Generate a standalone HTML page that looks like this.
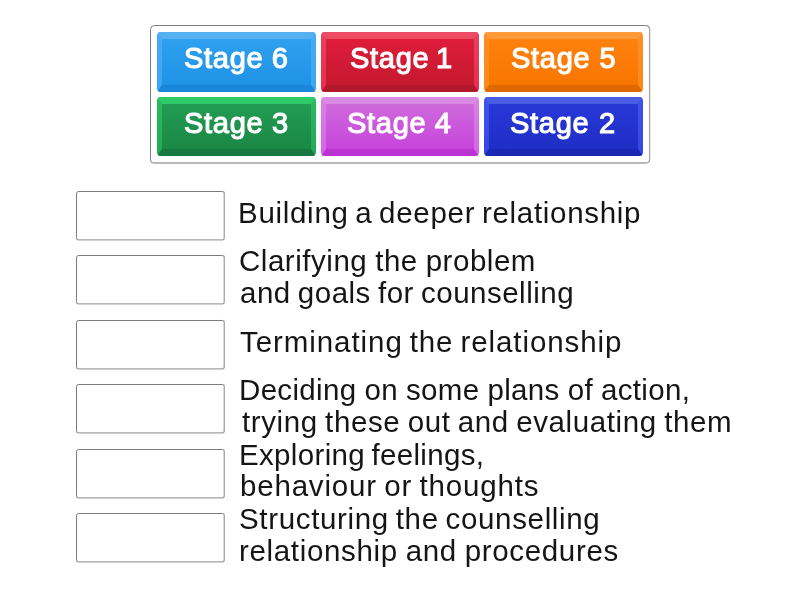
<!DOCTYPE html>
<html><head><meta charset="utf-8"><title>Match up</title>
<style>
html,body{margin:0;padding:0;background:#fff}
body{width:800px;height:600px;position:relative;overflow:hidden;font-family:"Liberation Sans",sans-serif}
#frame{position:absolute;left:0;top:0;display:block}
.tile{position:absolute;border-radius:4px;overflow:hidden;background:linear-gradient(var(--s1),var(--s2))}
.tile::before,.tile::after{content:"";position:absolute;left:0;right:0;border-left:5px solid transparent;border-right:5px solid transparent}
.tile::before{top:0;border-top:7px solid var(--bt)}
.tile::after{bottom:0;border-bottom:7px solid var(--bb)}
.tile i{position:absolute;left:5px;right:5px;top:7px;bottom:7px;background:linear-gradient(var(--m1),var(--m2))}
.tile span{position:absolute;will-change:transform;white-space:nowrap;color:#fff;font-weight:normal;-webkit-text-stroke:1.1px #fff;font-size:29.0px;line-height:34px;height:34px}
.ln{position:absolute;will-change:transform;white-space:nowrap;color:#151515;font-size:29.5px;line-height:34px;height:34px}
</style></head><body>
<svg id="frame" width="800" height="600" viewBox="0 0 800 600"><g fill="none"><path stroke="#a2a2a2" stroke-width="1.3" d="M645.6,25.5Q649.6,25.5 649.6,29.5L649.6,159.0Q649.6,163.0 645.6,163.0L154.5,163.0Q150.5,163.0 150.5,159.0 M222.25,191.5Q224.25,191.5 224.25,193.5L224.25,237.85Q224.25,239.85 222.25,239.85L78.5,239.85Q76.5,239.85 76.5,237.85 M222.25,255.5Q224.25,255.5 224.25,257.5L224.25,301.85Q224.25,303.85 222.25,303.85L78.5,303.85Q76.5,303.85 76.5,301.85 M222.25,320.5Q224.25,320.5 224.25,322.5L224.25,366.85Q224.25,368.85 222.25,368.85L78.5,368.85Q76.5,368.85 76.5,366.85 M222.25,384.5Q224.25,384.5 224.25,386.5L224.25,430.85Q224.25,432.85 222.25,432.85L78.5,432.85Q76.5,432.85 76.5,430.85 M222.25,449.5Q224.25,449.5 224.25,451.5L224.25,495.85Q224.25,497.85 222.25,497.85L78.5,497.85Q76.5,497.85 76.5,495.85 M222.25,513.5Q224.25,513.5 224.25,515.5L224.25,559.85Q224.25,561.85 222.25,561.85L78.5,561.85Q76.5,561.85 76.5,559.85"/><path stroke="#7c7c7c" stroke-width="1" d="M150.5,159.0L150.5,29.5Q150.5,25.5 154.5,25.5L645.6,25.5 M76.5,237.85L76.5,193.5Q76.5,191.5 78.5,191.5L222.25,191.5 M76.5,301.85L76.5,257.5Q76.5,255.5 78.5,255.5L222.25,255.5 M76.5,366.85L76.5,322.5Q76.5,320.5 78.5,320.5L222.25,320.5 M76.5,430.85L76.5,386.5Q76.5,384.5 78.5,384.5L222.25,384.5 M76.5,495.85L76.5,451.5Q76.5,449.5 78.5,449.5L222.25,449.5 M76.5,559.85L76.5,515.5Q76.5,513.5 78.5,513.5L222.25,513.5"/></g></svg>
<div class="tile" style="left:157px;top:32px;width:159px;height:60px;--m1:#2fa0ee;--m2:#1f93e6;--s1:#47acf3;--s2:#3aa6f4;--bt:#56b1f3;--bb:#1a86d9"><i></i><span style="left:27.00px;top:9.10px;letter-spacing:0.700px;word-spacing:-0.20px">Stage 6</span></div>
<div class="tile" style="left:321px;top:32px;width:158px;height:60px;--m1:#df1c3a;--m2:#c5192f;--s1:#e8425e;--s2:#ea2c4a;--bt:#eb4c64;--bb:#b3172b"><i></i><span style="left:29.00px;top:9.10px;letter-spacing:0.700px;word-spacing:-2.00px">Stage 1</span></div>
<div class="tile" style="left:484px;top:32px;width:159px;height:60px;--m1:#ff820e;--m2:#f67600;--s1:#ff8e24;--s2:#ff8818;--bt:#ff9a3a;--bb:#e06800"><i></i><span style="left:27.00px;top:9.10px;letter-spacing:0.700px;word-spacing:0.40px">Stage 5</span></div>
<div class="tile" style="left:157px;top:97px;width:159px;height:59px;--m1:#229c54;--m2:#1b8846;--s1:#2aba62;--s2:#23a957;--bt:#2ecc68;--bb:#17793f"><i></i><span style="left:27.00px;top:8.55px;letter-spacing:0.700px;word-spacing:-0.00px">Stage 3</span></div>
<div class="tile" style="left:321px;top:97px;width:158px;height:59px;--m1:#cf6adb;--m2:#c744dc;--s1:#d982e3;--s2:#d862ea;--bt:#d98ae3;--bb:#bb34d3"><i></i><span style="left:26.00px;top:8.55px;letter-spacing:0.700px;word-spacing:-0.20px">Stage 4</span></div>
<div class="tile" style="left:484px;top:97px;width:159px;height:59px;--m1:#2838d8;--m2:#1f2ec4;--s1:#3e54ee;--s2:#3446e2;--bt:#4a5ce4;--bb:#1a28b4"><i></i><span style="left:26.40px;top:8.55px;letter-spacing:0.700px;word-spacing:1.00px">Stage 2</span></div>
<div class="ln" style="left:238.07px;top:196.00px;letter-spacing:0.705px;word-spacing:-2.20px">Building a deeper relationship</div>
<div class="ln" style="left:239.38px;top:244.00px;letter-spacing:0.535px;word-spacing:-0.86px">Clarifying the problem</div>
<div class="ln" style="left:239.90px;top:276.00px;letter-spacing:0.499px;word-spacing:-1.59px">and goals for counselling</div>
<div class="ln" style="left:239.83px;top:325.00px;letter-spacing:0.931px;word-spacing:-2.20px">Terminating the relationship</div>
<div class="ln" style="left:238.79px;top:373.00px;letter-spacing:0.324px;word-spacing:-0.45px">Deciding on some plans of action,</div>
<div class="ln" style="left:242.04px;top:405.00px;letter-spacing:0.601px;word-spacing:-1.42px">trying these out and evaluating them</div>
<div class="ln" style="left:239.03px;top:438.00px;letter-spacing:0.341px;word-spacing:-2.20px">Exploring feelings,</div>
<div class="ln" style="left:239.95px;top:469.00px;letter-spacing:0.803px;word-spacing:-1.52px">behaviour or thoughts</div>
<div class="ln" style="left:238.80px;top:502.00px;letter-spacing:0.657px;word-spacing:-2.00px">Structuring the counselling</div>
<div class="ln" style="left:238.64px;top:534.00px;letter-spacing:0.668px;word-spacing:-1.09px">relationship and procedures</div>
</body></html>
